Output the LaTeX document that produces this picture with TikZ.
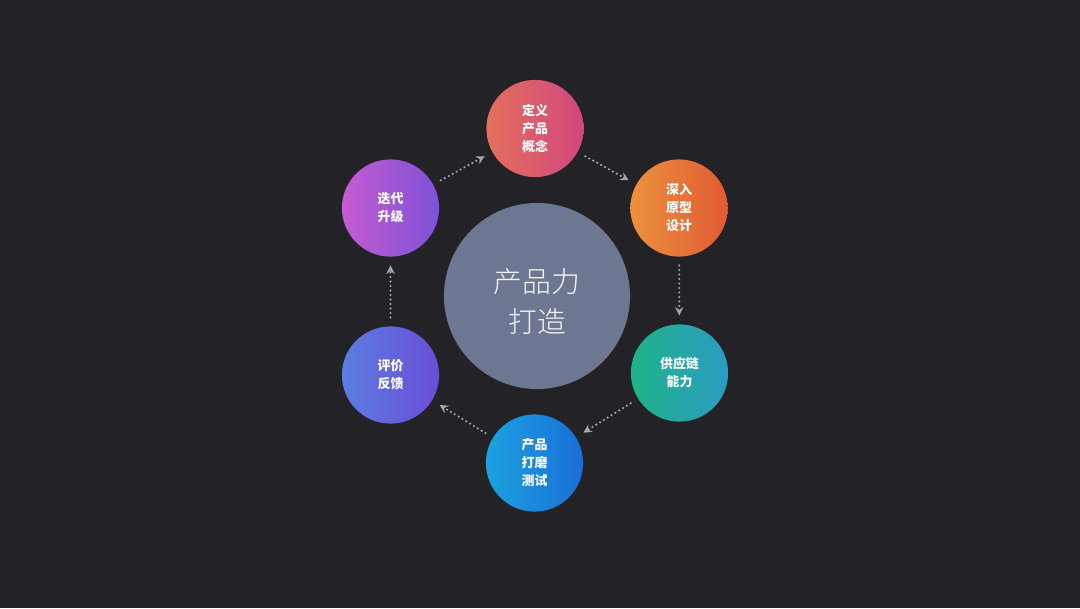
\documentclass[tikz,border=0pt]{standalone}
\usepackage{fontspec}
\usepackage{tikz}
\usetikzlibrary{shapes,arrows.meta,positioning}
\newfontfamily\cjk{Noto Sans CJK SC}
\newfontfamily\cjklight{Noto Sans CJK SC Light}
\definecolor{bgdark}{HTML}{222227}
\definecolor{hubgray}{HTML}{6E7791}
\definecolor{arrowgray}{HTML}{A6A6AC}
\definecolor{defineL}{HTML}{E3705B}
\definecolor{defineR}{HTML}{D2467F}
\definecolor{protoL}{HTML}{EB913D}
\definecolor{protoR}{HTML}{E25A34}
\definecolor{supplyL}{HTML}{1FB388}
\definecolor{supplyR}{HTML}{2B9CC3}
\definecolor{polishL}{HTML}{1BA2DF}
\definecolor{polishR}{HTML}{1A6ED8}
\definecolor{reviewL}{HTML}{5A7EE0}
\definecolor{reviewR}{HTML}{6B4DD8}
\definecolor{iterateL}{HTML}{C45BD0}
\definecolor{iterateR}{HTML}{7E52D9}

\begin{document}
\begin{tikzpicture}[x=0.025cm,y=0.025cm,semithick]
  \tikzstyle{stage}=[circle, minimum size=2.43cm, inner sep=0pt, text=white,
    align=center, font=\cjk\bfseries\fontsize{9.2}{12.8}\selectfont]
  \tikzstyle{hub}=[circle, fill=hubgray, minimum size=4.65cm, inner sep=0pt,
    text=white!92!hubgray, align=center, font=\cjklight\fontsize{20.5}{28.5}\selectfont]
  \tikzstyle{flow}=[draw=arrowgray, line width=1.7pt, line cap=round,
    dash pattern=on 0pt off 3.2pt, shorten >=6pt, shorten <=6pt,
    -{Stealth[length=6pt,width=6pt]}]

  \fill[bgdark] (0,-608) rectangle (1080,0);
  \useasboundingbox (0,-608) rectangle (1080,0);

  \node[hub] (core) at (537,-296) {\rule{0pt}{25pt}产品力\\打造};

  \node[stage, left color=defineL, right color=defineR]
    (define)  at (535,-128.5) {定义\\产品\\概念};
  \node[stage, left color=protoL, right color=protoR]
    (proto)   at (679,-208)   {深入\\原型\\设计};
  \node[stage, left color=supplyL, right color=supplyR]
    (supply)  at (679.5,-373) {供应链\\能力};
  \node[stage, left color=polishL, right color=polishR]
    (polish)  at (534.5,-463) {产品\\打磨\\测试};
  \node[stage, left color=reviewL, right color=reviewR]
    (review)  at (390.5,-375) {评价\\反馈};
  \node[stage, left color=iterateL, right color=iterateR]
    (iterate) at (390.5,-208) {迭代\\升级};

  \path
  (define)  edge [flow] (proto)
  (proto)   edge [flow] (supply)
  (supply)  edge [flow] (polish)
  (polish)  edge [flow] (review)
  (review)  edge [flow] (iterate)
  (iterate) edge [flow] (define)
  ;
\end{tikzpicture}
\end{document}
